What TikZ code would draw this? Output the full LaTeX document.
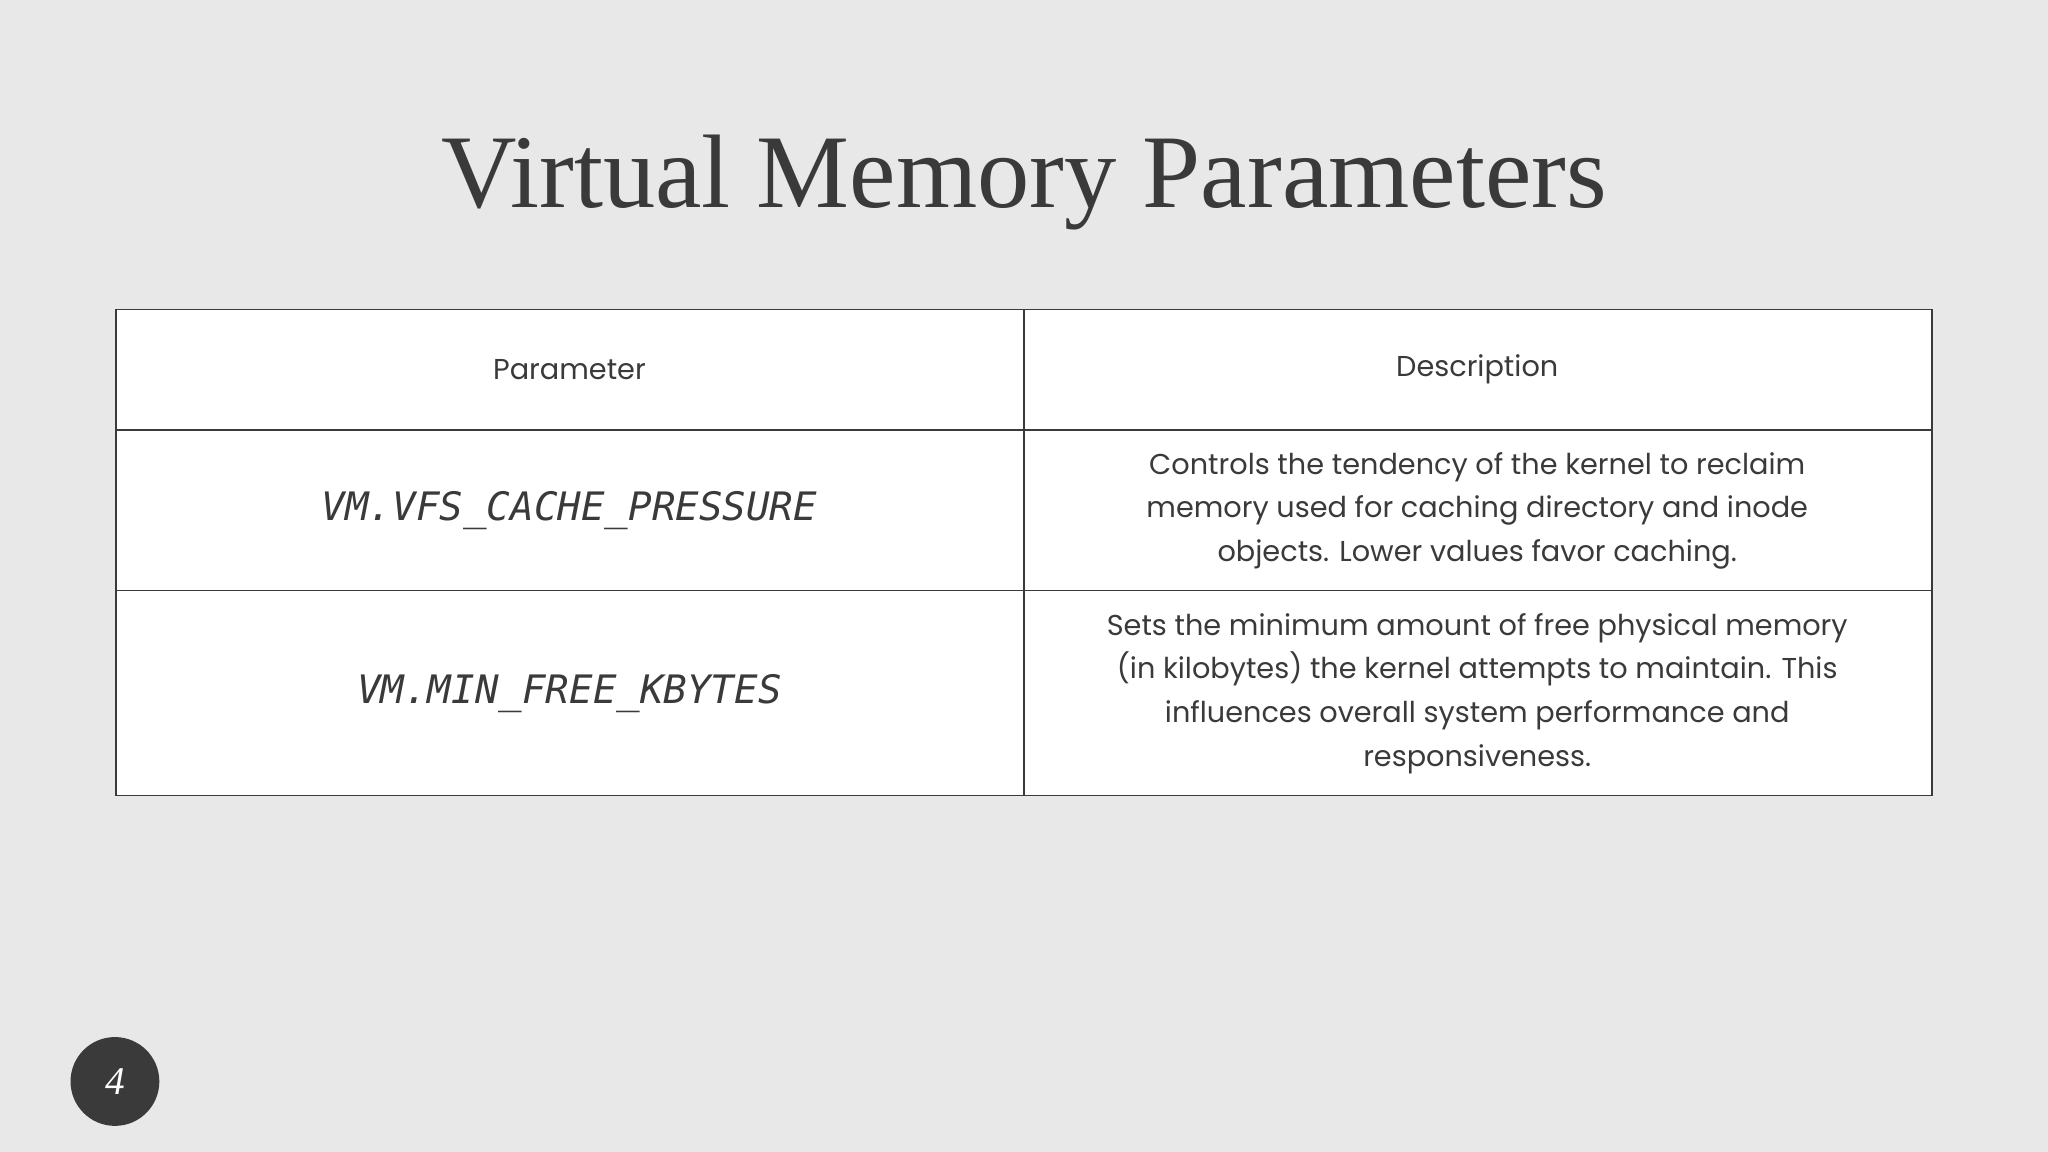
\documentclass[tikz,border=0pt]{standalone}
\usepackage{fontspec}
\setmainfont{Poppins}
\newfontfamily\titlefont{Liberation Serif}
\newfontfamily\monofont{DejaVu Sans Mono}
\definecolor{bg}{HTML}{E8E8E8}
\definecolor{ink}{HTML}{3A3A3A}
\begin{document}
\begin{tikzpicture}[x=1pt,y=-1pt,
  cell/.style={draw=ink,line width=1.3pt,fill=white},
  body/.style={text=ink,font=\fontsize{22}{33.5}\selectfont\color{ink},align=center},
  mono/.style={text=ink,font=\monofont\itshape\fontsize{30}{36}\selectfont}]
\fill[bg] (0,0) rectangle (1568,882);
\useasboundingbox (0,0) rectangle (1568,882);
\node[text=ink,font=\titlefont\fontsize{80}{90}\selectfont] (title) at (784,140) {Virtual Memory Parameters};
\draw[cell] (89,237) rectangle (1479,609);
\draw[ink,line width=1.3pt] (89,329) -- (1479,329);
\draw[ink,line width=1.3pt] (89,452) -- (1479,452);
\draw[ink,line width=1.3pt] (784,237) -- (784,609);
\node[body] (h1) at (436,283) {Parameter};
\node[body] (h2) at (1131,283) {Description};
\node[mono] (p1) at (436,391) {VM.VFS\_CACHE\_PRESSURE};
\node[body] (d1) at (1131,391) {Controls the tendency of the kernel to reclaim\\memory used for caching directory and inode\\objects. Lower values favor caching.};
\node[mono] (p2) at (436,531) {VM.MIN\_FREE\_KBYTES};
\node[body] (d2) at (1131,531) {Sets the minimum amount of free physical memory\\(in kilobytes) the kernel attempts to maintain. This\\influences overall system performance and\\responsiveness.};
\fill[ink] (88,828) circle (34);
\node[text=white,font=\titlefont\itshape\fontsize{30}{30}\selectfont] (pg) at (88,828) {4};
\end{tikzpicture}
\end{document}
